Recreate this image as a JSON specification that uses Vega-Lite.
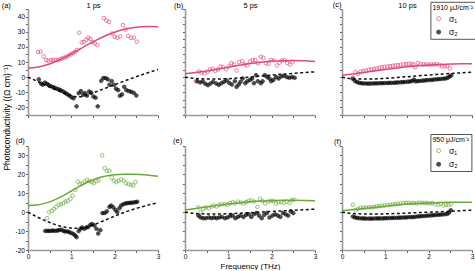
{
"$schema": "https://vega.github.io/schema/vega-lite/v6.json",
"padding": {"left": 1, "top": 0, "right": 0, "bottom": 0},
"bounds": "flush",
"columns": 3,
"spacing": {"row": 31, "column": 27},
"config": {
 "font": "Liberation Sans",
 "view": {"stroke": null},
 "axis": {"domainColor": "#9a9a9a", "domainWidth": 1.6, "tickColor": "#333", "tickSize": 2.5, "tickWidth": 0.8, "labelFontSize": 6.5, "labelColor": "black", "labelPadding": 1, "labelFlush": false, "labelOverlap": false, "grid": false, "titleFontWeight": "normal", "titleFontSize": 7.5, "titleColor": "black"},
 "legend": {"strokeColor": "#555", "fillColor": "white", "padding": 2, "titleFontSize": 7, "titleFontWeight": "normal", "titleColor": "black", "titlePadding": 3.5, "labelFontSize": 8.5, "labelColor": "black", "symbolSize": 16, "symbolStrokeWidth": 1, "rowPadding": 4.5, "labelOffset": 6, "symbolOffset": 2}
},
"datasets": {
"pts": [
{"p":"a","s":"σ₁","x":0.23,"y":16.6},{"p":"a","s":"σ₁","x":0.29,"y":16.8},{"p":"a","s":"σ₁","x":0.36,"y":13.7},{"p":"a","s":"σ₁","x":0.42,"y":11.3},{"p":"a","s":"σ₁","x":0.47,"y":10.8},{"p":"a","s":"σ₁","x":0.53,"y":11.3},{"p":"a","s":"σ₁","x":0.58,"y":11.4},{"p":"a","s":"σ₁","x":0.64,"y":11.4},{"p":"a","s":"σ₁","x":0.69,"y":11.2},{"p":"a","s":"σ₁","x":0.74,"y":11.9},{"p":"a","s":"σ₁","x":0.79,"y":12.4},{"p":"a","s":"σ₁","x":0.84,"y":12.9},{"p":"a","s":"σ₁","x":0.89,"y":13.6},{"p":"a","s":"σ₁","x":0.94,"y":14.2},{"p":"a","s":"σ₁","x":0.99,"y":15.1},{"p":"a","s":"σ₁","x":1.04,"y":15.9},{"p":"a","s":"σ₁","x":1.09,"y":16.7},{"p":"a","s":"σ₁","x":1.13,"y":18.0},{"p":"a","s":"σ₁","x":1.18,"y":29.3},{"p":"a","s":"σ₁","x":1.24,"y":23.0},{"p":"a","s":"σ₁","x":1.29,"y":23.1},{"p":"a","s":"σ₁","x":1.34,"y":24.6},{"p":"a","s":"σ₁","x":1.39,"y":25.9},{"p":"a","s":"σ₁","x":1.44,"y":25.2},{"p":"a","s":"σ₁","x":1.49,"y":23.1},{"p":"a","s":"σ₁","x":1.54,"y":22.2},{"p":"a","s":"σ₁","x":1.60,"y":21.2},{"p":"a","s":"σ₁","x":1.75,"y":39.0},{"p":"a","s":"σ₁","x":1.81,"y":37.3},{"p":"a","s":"σ₁","x":1.87,"y":36.5},{"p":"a","s":"σ₁","x":1.94,"y":28.8},{"p":"a","s":"σ₁","x":2.00,"y":26.6},{"p":"a","s":"σ₁","x":2.06,"y":26.0},{"p":"a","s":"σ₁","x":2.13,"y":26.9},{"p":"a","s":"σ₁","x":2.19,"y":34.4},{"p":"a","s":"σ₁","x":2.25,"y":31.4},{"p":"a","s":"σ₁","x":2.31,"y":27.2},{"p":"a","s":"σ₁","x":2.38,"y":26.0},{"p":"a","s":"σ₁","x":2.44,"y":26.0},{"p":"a","s":"σ₁","x":2.51,"y":23.4},
{"p":"a","s":"σ₂","x":0.25,"y":-1.5},{"p":"a","s":"σ₂","x":0.30,"y":-4.2},{"p":"a","s":"σ₂","x":0.34,"y":-5.0},{"p":"a","s":"σ₂","x":0.39,"y":-3.6},{"p":"a","s":"σ₂","x":0.44,"y":-4.4},{"p":"a","s":"σ₂","x":0.48,"y":-5.3},{"p":"a","s":"σ₂","x":0.53,"y":-6.0},{"p":"a","s":"σ₂","x":0.58,"y":-6.6},{"p":"a","s":"σ₂","x":0.62,"y":-7.1},{"p":"a","s":"σ₂","x":0.67,"y":-7.7},{"p":"a","s":"σ₂","x":0.72,"y":-8.2},{"p":"a","s":"σ₂","x":0.76,"y":-8.8},{"p":"a","s":"σ₂","x":0.81,"y":-9.5},{"p":"a","s":"σ₂","x":0.86,"y":-10.4},{"p":"a","s":"σ₂","x":0.90,"y":-11.2},{"p":"a","s":"σ₂","x":0.95,"y":-12.1},{"p":"a","s":"σ₂","x":1.00,"y":-13.2},{"p":"a","s":"σ₂","x":1.05,"y":-14.0},{"p":"a","s":"σ₂","x":1.12,"y":-19.3},{"p":"a","s":"σ₂","x":1.17,"y":-10.6},{"p":"a","s":"σ₂","x":1.22,"y":-9.2},{"p":"a","s":"σ₂","x":1.27,"y":-11.6},{"p":"a","s":"σ₂","x":1.31,"y":-10.5},{"p":"a","s":"σ₂","x":1.36,"y":-12.2},{"p":"a","s":"σ₂","x":1.41,"y":-9.5},{"p":"a","s":"σ₂","x":1.46,"y":-10.3},{"p":"a","s":"σ₂","x":1.51,"y":-12.8},{"p":"a","s":"σ₂","x":1.56,"y":-13.6},{"p":"a","s":"σ₂","x":1.61,"y":-19.3},{"p":"a","s":"σ₂","x":1.69,"y":-2.4},{"p":"a","s":"σ₂","x":1.74,"y":-0.6},{"p":"a","s":"σ₂","x":1.79,"y":-0.6},{"p":"a","s":"σ₂","x":1.84,"y":-1.5},{"p":"a","s":"σ₂","x":1.88,"y":-5.0},{"p":"a","s":"σ₂","x":1.93,"y":-2.6},{"p":"a","s":"σ₂","x":1.98,"y":-5.0},{"p":"a","s":"σ₂","x":2.03,"y":-7.6},{"p":"a","s":"σ₂","x":2.08,"y":-8.6},{"p":"a","s":"σ₂","x":2.12,"y":-12.3},{"p":"a","s":"σ₂","x":2.17,"y":-11.4},{"p":"a","s":"σ₂","x":2.22,"y":-6.4},{"p":"a","s":"σ₂","x":2.27,"y":-8.6},{"p":"a","s":"σ₂","x":2.33,"y":-9.2},{"p":"a","s":"σ₂","x":2.38,"y":-9.7},{"p":"a","s":"σ₂","x":2.44,"y":-10.4},{"p":"a","s":"σ₂","x":2.50,"y":-12.1},
{"p":"b","s":"σ₁","x":0.25,"y":-2.7},{"p":"b","s":"σ₁","x":0.32,"y":3.8},{"p":"b","s":"σ₁","x":0.38,"y":2.9},{"p":"b","s":"σ₁","x":0.45,"y":2.4},{"p":"b","s":"σ₁","x":0.52,"y":3.5},{"p":"b","s":"σ₁","x":0.58,"y":5.1},{"p":"b","s":"σ₁","x":0.64,"y":5.5},{"p":"b","s":"σ₁","x":0.70,"y":4.2},{"p":"b","s":"σ₁","x":0.76,"y":5.1},{"p":"b","s":"σ₁","x":0.82,"y":7.1},{"p":"b","s":"σ₁","x":0.88,"y":6.6},{"p":"b","s":"σ₁","x":0.95,"y":5.3},{"p":"b","s":"σ₁","x":1.01,"y":7.1},{"p":"b","s":"σ₁","x":1.07,"y":9.3},{"p":"b","s":"σ₁","x":1.13,"y":8.4},{"p":"b","s":"σ₁","x":1.19,"y":4.4},{"p":"b","s":"σ₁","x":1.25,"y":9.9},{"p":"b","s":"σ₁","x":1.32,"y":10.6},{"p":"b","s":"σ₁","x":1.38,"y":8.4},{"p":"b","s":"σ₁","x":1.44,"y":7.7},{"p":"b","s":"σ₁","x":1.50,"y":10.4},{"p":"b","s":"σ₁","x":1.56,"y":11.3},{"p":"b","s":"σ₁","x":1.62,"y":11.3},{"p":"b","s":"σ₁","x":1.68,"y":9.1},{"p":"b","s":"σ₁","x":1.75,"y":13.5},{"p":"b","s":"σ₁","x":1.81,"y":12.8},{"p":"b","s":"σ₁","x":1.87,"y":9.1},{"p":"b","s":"σ₁","x":1.93,"y":8.8},{"p":"b","s":"σ₁","x":1.99,"y":11.3},{"p":"b","s":"σ₁","x":2.05,"y":11.0},{"p":"b","s":"σ₁","x":2.12,"y":7.7},{"p":"b","s":"σ₁","x":2.18,"y":9.5},{"p":"b","s":"σ₁","x":2.24,"y":11.0},{"p":"b","s":"σ₁","x":2.30,"y":11.3},{"p":"b","s":"σ₁","x":2.36,"y":9.3},{"p":"b","s":"σ₁","x":2.42,"y":8.4},{"p":"b","s":"σ₁","x":2.48,"y":9.9},
{"p":"b","s":"σ₂","x":0.28,"y":-2.7},{"p":"b","s":"σ₂","x":0.35,"y":-3.5},{"p":"b","s":"σ₂","x":0.41,"y":-2.9},{"p":"b","s":"σ₂","x":0.47,"y":-4.4},{"p":"b","s":"σ₂","x":0.53,"y":-5.3},{"p":"b","s":"σ₂","x":0.59,"y":-4.2},{"p":"b","s":"σ₂","x":0.65,"y":-3.1},{"p":"b","s":"σ₂","x":0.72,"y":-4.2},{"p":"b","s":"σ₂","x":0.78,"y":-5.1},{"p":"b","s":"σ₂","x":0.84,"y":-4.0},{"p":"b","s":"σ₂","x":0.90,"y":-3.1},{"p":"b","s":"σ₂","x":0.96,"y":-2.2},{"p":"b","s":"σ₂","x":1.02,"y":-3.8},{"p":"b","s":"σ₂","x":1.08,"y":-4.9},{"p":"b","s":"σ₂","x":1.15,"y":-2.7},{"p":"b","s":"σ₂","x":1.19,"y":-6.4},{"p":"b","s":"σ₂","x":1.24,"y":-4.9},{"p":"b","s":"σ₂","x":1.28,"y":-3.1},{"p":"b","s":"σ₂","x":1.33,"y":-0.9},{"p":"b","s":"σ₂","x":1.39,"y":-4.0},{"p":"b","s":"σ₂","x":1.44,"y":-2.7},{"p":"b","s":"σ₂","x":1.50,"y":-1.8},{"p":"b","s":"σ₂","x":1.55,"y":-0.9},{"p":"b","s":"σ₂","x":1.59,"y":-4.0},{"p":"b","s":"σ₂","x":1.64,"y":1.3},{"p":"b","s":"σ₂","x":1.68,"y":-2.7},{"p":"b","s":"σ₂","x":1.75,"y":-4.0},{"p":"b","s":"σ₂","x":1.79,"y":-2.7},{"p":"b","s":"σ₂","x":1.84,"y":1.3},{"p":"b","s":"σ₂","x":1.90,"y":0.0},{"p":"b","s":"σ₂","x":1.95,"y":-0.9},{"p":"b","s":"σ₂","x":1.99,"y":-2.7},{"p":"b","s":"σ₂","x":2.04,"y":-1.8},{"p":"b","s":"σ₂","x":2.10,"y":0.0},{"p":"b","s":"σ₂","x":2.16,"y":-0.9},{"p":"b","s":"σ₂","x":2.22,"y":0.4},{"p":"b","s":"σ₂","x":2.28,"y":0.9},{"p":"b","s":"σ₂","x":2.35,"y":0.0},{"p":"b","s":"σ₂","x":2.41,"y":-0.4},{"p":"b","s":"σ₂","x":2.47,"y":0.0},{"p":"b","s":"σ₂","x":2.53,"y":-0.4},
{"p":"c","s":"σ₁","x":0.25,"y":-0.4},{"p":"c","s":"σ₁","x":0.31,"y":3.3},{"p":"c","s":"σ₁","x":0.37,"y":2.2},{"p":"c","s":"σ₁","x":0.43,"y":3.5},{"p":"c","s":"σ₁","x":0.49,"y":4.0},{"p":"c","s":"σ₁","x":0.55,"y":4.4},{"p":"c","s":"σ₁","x":0.62,"y":4.9},{"p":"c","s":"σ₁","x":0.68,"y":5.1},{"p":"c","s":"σ₁","x":0.74,"y":5.5},{"p":"c","s":"σ₁","x":0.80,"y":5.7},{"p":"c","s":"σ₁","x":0.86,"y":6.2},{"p":"c","s":"σ₁","x":0.92,"y":6.4},{"p":"c","s":"σ₁","x":0.98,"y":6.8},{"p":"c","s":"σ₁","x":1.05,"y":7.1},{"p":"c","s":"σ₁","x":1.11,"y":7.3},{"p":"c","s":"σ₁","x":1.17,"y":7.5},{"p":"c","s":"σ₁","x":1.23,"y":7.7},{"p":"c","s":"σ₁","x":1.29,"y":7.9},{"p":"c","s":"σ₁","x":1.35,"y":8.2},{"p":"c","s":"σ₁","x":1.42,"y":8.4},{"p":"c","s":"σ₁","x":1.48,"y":8.6},{"p":"c","s":"σ₁","x":1.54,"y":8.8},{"p":"c","s":"σ₁","x":1.60,"y":8.8},{"p":"c","s":"σ₁","x":1.65,"y":8.4},{"p":"c","s":"σ₁","x":1.69,"y":6.6},{"p":"c","s":"σ₁","x":1.75,"y":9.3},{"p":"c","s":"σ₁","x":1.82,"y":8.6},{"p":"c","s":"σ₁","x":1.88,"y":8.4},{"p":"c","s":"σ₁","x":1.94,"y":8.4},{"p":"c","s":"σ₁","x":2.00,"y":8.2},{"p":"c","s":"σ₁","x":2.06,"y":8.4},{"p":"c","s":"σ₁","x":2.12,"y":8.4},{"p":"c","s":"σ₁","x":2.18,"y":8.6},{"p":"c","s":"σ₁","x":2.25,"y":8.2},{"p":"c","s":"σ₁","x":2.31,"y":7.1},{"p":"c","s":"σ₁","x":2.37,"y":7.1},{"p":"c","s":"σ₁","x":2.43,"y":7.3},{"p":"c","s":"σ₁","x":2.49,"y":5.7},
{"p":"c","s":"σ₂","x":0.25,"y":-1.1},{"p":"c","s":"σ₂","x":0.30,"y":-2.6},{"p":"c","s":"σ₂","x":0.35,"y":-3.3},{"p":"c","s":"σ₂","x":0.40,"y":-3.8},{"p":"c","s":"σ₂","x":0.45,"y":-4.0},{"p":"c","s":"σ₂","x":0.50,"y":-4.2},{"p":"c","s":"σ₂","x":0.56,"y":-4.2},{"p":"c","s":"σ₂","x":0.61,"y":-4.3},{"p":"c","s":"σ₂","x":0.66,"y":-4.2},{"p":"c","s":"σ₂","x":0.72,"y":-4.2},{"p":"c","s":"σ₂","x":0.77,"y":-4.1},{"p":"c","s":"σ₂","x":0.82,"y":-4.1},{"p":"c","s":"σ₂","x":0.88,"y":-4.0},{"p":"c","s":"σ₂","x":0.93,"y":-4.0},{"p":"c","s":"σ₂","x":0.98,"y":-3.9},{"p":"c","s":"σ₂","x":1.04,"y":-3.9},{"p":"c","s":"σ₂","x":1.09,"y":-3.8},{"p":"c","s":"σ₂","x":1.14,"y":-3.8},{"p":"c","s":"σ₂","x":1.20,"y":-3.7},{"p":"c","s":"σ₂","x":1.25,"y":-3.6},{"p":"c","s":"σ₂","x":1.30,"y":-3.5},{"p":"c","s":"σ₂","x":1.36,"y":-3.4},{"p":"c","s":"σ₂","x":1.41,"y":-3.3},{"p":"c","s":"σ₂","x":1.46,"y":-3.2},{"p":"c","s":"σ₂","x":1.52,"y":-3.0},{"p":"c","s":"σ₂","x":1.57,"y":-2.9},{"p":"c","s":"σ₂","x":1.62,"y":-2.6},{"p":"c","s":"σ₂","x":1.66,"y":-1.6},{"p":"c","s":"σ₂","x":1.70,"y":-2.8},{"p":"c","s":"σ₂","x":1.75,"y":-2.6},{"p":"c","s":"σ₂","x":1.80,"y":-2.5},{"p":"c","s":"σ₂","x":1.86,"y":-2.3},{"p":"c","s":"σ₂","x":1.91,"y":-2.2},{"p":"c","s":"σ₂","x":1.96,"y":-2.0},{"p":"c","s":"σ₂","x":2.02,"y":-1.9},{"p":"c","s":"σ₂","x":2.07,"y":-1.8},{"p":"c","s":"σ₂","x":2.12,"y":-1.6},{"p":"c","s":"σ₂","x":2.18,"y":-1.5},{"p":"c","s":"σ₂","x":2.23,"y":-1.3},{"p":"c","s":"σ₂","x":2.28,"y":-1.2},{"p":"c","s":"σ₂","x":2.34,"y":-1.0},{"p":"c","s":"σ₂","x":2.39,"y":-0.9},{"p":"c","s":"σ₂","x":2.44,"y":-0.4},{"p":"c","s":"σ₂","x":2.48,"y":0.4},{"p":"c","s":"σ₂","x":2.52,"y":1.1},
{"p":"d","s":"σ₁","x":0.44,"y":-3.2},{"p":"d","s":"σ₁","x":0.49,"y":0.0},{"p":"d","s":"σ₁","x":0.55,"y":0.7},{"p":"d","s":"σ₁","x":0.60,"y":1.8},{"p":"d","s":"σ₁","x":0.65,"y":2.8},{"p":"d","s":"σ₁","x":0.71,"y":3.9},{"p":"d","s":"σ₁","x":0.76,"y":4.2},{"p":"d","s":"σ₁","x":0.82,"y":4.8},{"p":"d","s":"σ₁","x":0.87,"y":5.6},{"p":"d","s":"σ₁","x":0.92,"y":6.0},{"p":"d","s":"σ₁","x":0.98,"y":7.1},{"p":"d","s":"σ₁","x":1.03,"y":8.8},{"p":"d","s":"σ₁","x":1.09,"y":11.8},{"p":"d","s":"σ₁","x":1.15,"y":16.2},{"p":"d","s":"σ₁","x":1.20,"y":14.8},{"p":"d","s":"σ₁","x":1.25,"y":15.2},{"p":"d","s":"σ₁","x":1.31,"y":16.2},{"p":"d","s":"σ₁","x":1.36,"y":17.1},{"p":"d","s":"σ₁","x":1.42,"y":16.6},{"p":"d","s":"σ₁","x":1.47,"y":15.9},{"p":"d","s":"σ₁","x":1.52,"y":15.3},{"p":"d","s":"σ₁","x":1.58,"y":16.6},{"p":"d","s":"σ₁","x":1.63,"y":16.9},{"p":"d","s":"σ₁","x":1.71,"y":30.0},{"p":"d","s":"σ₁","x":1.77,"y":23.3},{"p":"d","s":"σ₁","x":1.82,"y":21.9},{"p":"d","s":"σ₁","x":1.88,"y":21.9},{"p":"d","s":"σ₁","x":1.93,"y":18.3},{"p":"d","s":"σ₁","x":1.98,"y":16.6},{"p":"d","s":"σ₁","x":2.04,"y":15.9},{"p":"d","s":"σ₁","x":2.09,"y":16.6},{"p":"d","s":"σ₁","x":2.15,"y":17.3},{"p":"d","s":"σ₁","x":2.21,"y":16.6},{"p":"d","s":"σ₁","x":2.26,"y":15.3},{"p":"d","s":"σ₁","x":2.32,"y":14.8},{"p":"d","s":"σ₁","x":2.38,"y":14.5},{"p":"d","s":"σ₁","x":2.43,"y":14.1},{"p":"d","s":"σ₁","x":2.48,"y":15.9},
{"p":"d","s":"σ₂","x":0.40,"y":-9.9},{"p":"d","s":"σ₂","x":0.45,"y":-9.9},{"p":"d","s":"σ₂","x":0.49,"y":-9.9},{"p":"d","s":"σ₂","x":0.54,"y":-9.9},{"p":"d","s":"σ₂","x":0.58,"y":-9.7},{"p":"d","s":"σ₂","x":0.63,"y":-9.9},{"p":"d","s":"σ₂","x":0.68,"y":-9.7},{"p":"d","s":"σ₂","x":0.72,"y":-9.5},{"p":"d","s":"σ₂","x":0.77,"y":-9.3},{"p":"d","s":"σ₂","x":0.82,"y":-9.9},{"p":"d","s":"σ₂","x":0.86,"y":-10.2},{"p":"d","s":"σ₂","x":0.91,"y":-10.2},{"p":"d","s":"σ₂","x":0.95,"y":-10.6},{"p":"d","s":"σ₂","x":1.00,"y":-11.0},{"p":"d","s":"σ₂","x":1.05,"y":-11.6},{"p":"d","s":"σ₂","x":1.09,"y":-12.3},{"p":"d","s":"σ₂","x":1.12,"y":-13.2},{"p":"d","s":"σ₂","x":1.17,"y":-10.0},{"p":"d","s":"σ₂","x":1.21,"y":-8.8},{"p":"d","s":"σ₂","x":1.25,"y":-8.1},{"p":"d","s":"σ₂","x":1.30,"y":-8.8},{"p":"d","s":"σ₂","x":1.35,"y":-8.1},{"p":"d","s":"σ₂","x":1.39,"y":-7.8},{"p":"d","s":"σ₂","x":1.44,"y":-6.7},{"p":"d","s":"σ₂","x":1.48,"y":-6.3},{"p":"d","s":"σ₂","x":1.53,"y":-7.0},{"p":"d","s":"σ₂","x":1.58,"y":-8.8},{"p":"d","s":"σ₂","x":1.62,"y":-11.3},{"p":"d","s":"σ₂","x":1.67,"y":-9.5},{"p":"d","s":"σ₂","x":1.72,"y":-0.5},{"p":"d","s":"σ₂","x":1.77,"y":-0.4},{"p":"d","s":"σ₂","x":1.82,"y":0.4},{"p":"d","s":"σ₂","x":1.88,"y":2.8},{"p":"d","s":"σ₂","x":1.92,"y":3.5},{"p":"d","s":"σ₂","x":1.97,"y":2.5},{"p":"d","s":"σ₂","x":2.02,"y":1.1},{"p":"d","s":"σ₂","x":2.06,"y":0.0},{"p":"d","s":"σ₂","x":2.11,"y":2.1},{"p":"d","s":"σ₂","x":2.15,"y":3.5},{"p":"d","s":"σ₂","x":2.20,"y":4.2},{"p":"d","s":"σ₂","x":2.25,"y":4.6},{"p":"d","s":"σ₂","x":2.29,"y":4.8},{"p":"d","s":"σ₂","x":2.34,"y":4.9},{"p":"d","s":"σ₂","x":2.38,"y":5.0},{"p":"d","s":"σ₂","x":2.43,"y":5.1},{"p":"d","s":"σ₂","x":2.48,"y":5.3},{"p":"d","s":"σ₂","x":2.52,"y":5.5},
{"p":"e","s":"σ₁","x":0.31,"y":2.6},{"p":"e","s":"σ₁","x":0.36,"y":0.0},{"p":"e","s":"σ₁","x":0.42,"y":1.8},{"p":"e","s":"σ₁","x":0.48,"y":2.5},{"p":"e","s":"σ₁","x":0.55,"y":2.1},{"p":"e","s":"σ₁","x":0.61,"y":3.0},{"p":"e","s":"σ₁","x":0.67,"y":3.5},{"p":"e","s":"σ₁","x":0.73,"y":3.0},{"p":"e","s":"σ₁","x":0.79,"y":3.9},{"p":"e","s":"σ₁","x":0.85,"y":4.2},{"p":"e","s":"σ₁","x":0.92,"y":4.2},{"p":"e","s":"σ₁","x":0.98,"y":3.9},{"p":"e","s":"σ₁","x":1.04,"y":4.8},{"p":"e","s":"σ₁","x":1.10,"y":5.3},{"p":"e","s":"σ₁","x":1.16,"y":4.6},{"p":"e","s":"σ₁","x":1.22,"y":5.6},{"p":"e","s":"σ₁","x":1.28,"y":5.1},{"p":"e","s":"σ₁","x":1.35,"y":4.6},{"p":"e","s":"σ₁","x":1.41,"y":5.3},{"p":"e","s":"σ₁","x":1.47,"y":6.0},{"p":"e","s":"σ₁","x":1.53,"y":6.3},{"p":"e","s":"σ₁","x":1.59,"y":5.6},{"p":"e","s":"σ₁","x":1.67,"y":2.8},{"p":"e","s":"σ₁","x":1.73,"y":7.1},{"p":"e","s":"σ₁","x":1.79,"y":6.0},{"p":"e","s":"σ₁","x":1.85,"y":4.6},{"p":"e","s":"σ₁","x":1.92,"y":5.6},{"p":"e","s":"σ₁","x":1.98,"y":6.0},{"p":"e","s":"σ₁","x":2.04,"y":6.0},{"p":"e","s":"σ₁","x":2.10,"y":4.6},{"p":"e","s":"σ₁","x":2.16,"y":5.3},{"p":"e","s":"σ₁","x":2.22,"y":5.3},{"p":"e","s":"σ₁","x":2.28,"y":4.9},{"p":"e","s":"σ₁","x":2.35,"y":5.6},{"p":"e","s":"σ₁","x":2.41,"y":4.9},{"p":"e","s":"σ₁","x":2.47,"y":6.3},{"p":"e","s":"σ₁","x":2.52,"y":6.7},
{"p":"e","s":"σ₂","x":0.31,"y":-1.8},{"p":"e","s":"σ₂","x":0.36,"y":-2.8},{"p":"e","s":"σ₂","x":0.42,"y":-3.2},{"p":"e","s":"σ₂","x":0.48,"y":-3.2},{"p":"e","s":"σ₂","x":0.55,"y":-2.8},{"p":"e","s":"σ₂","x":0.61,"y":-3.2},{"p":"e","s":"σ₂","x":0.67,"y":-2.8},{"p":"e","s":"σ₂","x":0.73,"y":-3.2},{"p":"e","s":"σ₂","x":0.79,"y":-2.8},{"p":"e","s":"σ₂","x":0.85,"y":-2.5},{"p":"e","s":"σ₂","x":0.92,"y":-3.2},{"p":"e","s":"σ₂","x":0.98,"y":-2.8},{"p":"e","s":"σ₂","x":1.04,"y":-2.1},{"p":"e","s":"σ₂","x":1.10,"y":-1.8},{"p":"e","s":"σ₂","x":1.16,"y":-3.2},{"p":"e","s":"σ₂","x":1.22,"y":-2.5},{"p":"e","s":"σ₂","x":1.28,"y":-1.8},{"p":"e","s":"σ₂","x":1.35,"y":-2.5},{"p":"e","s":"σ₂","x":1.41,"y":-1.4},{"p":"e","s":"σ₂","x":1.47,"y":-1.1},{"p":"e","s":"σ₂","x":1.53,"y":-2.5},{"p":"e","s":"σ₂","x":1.59,"y":-1.1},{"p":"e","s":"σ₂","x":1.65,"y":-0.4},{"p":"e","s":"σ₂","x":1.71,"y":-1.8},{"p":"e","s":"σ₂","x":1.77,"y":-3.2},{"p":"e","s":"σ₂","x":1.83,"y":-1.4},{"p":"e","s":"σ₂","x":1.89,"y":-0.4},{"p":"e","s":"σ₂","x":1.95,"y":-2.8},{"p":"e","s":"σ₂","x":2.02,"y":-1.8},{"p":"e","s":"σ₂","x":2.08,"y":-1.1},{"p":"e","s":"σ₂","x":2.14,"y":-1.8},{"p":"e","s":"σ₂","x":2.20,"y":-2.5},{"p":"e","s":"σ₂","x":2.26,"y":-0.4},{"p":"e","s":"σ₂","x":2.32,"y":-1.1},{"p":"e","s":"σ₂","x":2.38,"y":-1.8},{"p":"e","s":"σ₂","x":2.44,"y":0.4},{"p":"e","s":"σ₂","x":2.50,"y":-0.5},
{"p":"f","s":"σ₁","x":0.25,"y":3.9},{"p":"f","s":"σ₁","x":0.31,"y":1.1},{"p":"f","s":"σ₁","x":0.37,"y":1.8},{"p":"f","s":"σ₁","x":0.43,"y":2.3},{"p":"f","s":"σ₁","x":0.49,"y":2.3},{"p":"f","s":"σ₁","x":0.55,"y":2.5},{"p":"f","s":"σ₁","x":0.62,"y":2.6},{"p":"f","s":"σ₁","x":0.68,"y":2.6},{"p":"f","s":"σ₁","x":0.74,"y":2.8},{"p":"f","s":"σ₁","x":0.80,"y":3.0},{"p":"f","s":"σ₁","x":0.86,"y":3.2},{"p":"f","s":"σ₁","x":0.92,"y":3.5},{"p":"f","s":"σ₁","x":0.98,"y":3.5},{"p":"f","s":"σ₁","x":1.05,"y":3.7},{"p":"f","s":"σ₁","x":1.11,"y":3.9},{"p":"f","s":"σ₁","x":1.17,"y":4.1},{"p":"f","s":"σ₁","x":1.23,"y":4.2},{"p":"f","s":"σ₁","x":1.29,"y":4.4},{"p":"f","s":"σ₁","x":1.35,"y":4.6},{"p":"f","s":"σ₁","x":1.42,"y":4.8},{"p":"f","s":"σ₁","x":1.48,"y":4.9},{"p":"f","s":"σ₁","x":1.54,"y":4.9},{"p":"f","s":"σ₁","x":1.60,"y":4.8},{"p":"f","s":"σ₁","x":1.66,"y":4.9},{"p":"f","s":"σ₁","x":1.72,"y":4.6},{"p":"f","s":"σ₁","x":1.78,"y":5.1},{"p":"f","s":"σ₁","x":1.85,"y":4.9},{"p":"f","s":"σ₁","x":1.91,"y":4.9},{"p":"f","s":"σ₁","x":1.97,"y":4.8},{"p":"f","s":"σ₁","x":2.03,"y":4.6},{"p":"f","s":"σ₁","x":2.09,"y":4.8},{"p":"f","s":"σ₁","x":2.15,"y":4.2},{"p":"f","s":"σ₁","x":2.22,"y":3.9},{"p":"f","s":"σ₁","x":2.28,"y":4.4},{"p":"f","s":"σ₁","x":2.34,"y":3.5},{"p":"f","s":"σ₁","x":2.40,"y":3.9},{"p":"f","s":"σ₁","x":2.46,"y":3.9},{"p":"f","s":"σ₁","x":2.51,"y":4.2},
{"p":"f","s":"σ₂","x":0.25,"y":-2.3},{"p":"f","s":"σ₂","x":0.30,"y":-2.8},{"p":"f","s":"σ₂","x":0.35,"y":-3.0},{"p":"f","s":"σ₂","x":0.40,"y":-3.2},{"p":"f","s":"σ₂","x":0.46,"y":-3.3},{"p":"f","s":"σ₂","x":0.51,"y":-3.3},{"p":"f","s":"σ₂","x":0.56,"y":-3.4},{"p":"f","s":"σ₂","x":0.62,"y":-3.4},{"p":"f","s":"σ₂","x":0.67,"y":-3.4},{"p":"f","s":"σ₂","x":0.72,"y":-3.4},{"p":"f","s":"σ₂","x":0.78,"y":-3.3},{"p":"f","s":"σ₂","x":0.83,"y":-3.3},{"p":"f","s":"σ₂","x":0.88,"y":-3.3},{"p":"f","s":"σ₂","x":0.94,"y":-3.3},{"p":"f","s":"σ₂","x":0.99,"y":-3.2},{"p":"f","s":"σ₂","x":1.04,"y":-3.2},{"p":"f","s":"σ₂","x":1.10,"y":-3.1},{"p":"f","s":"σ₂","x":1.15,"y":-3.1},{"p":"f","s":"σ₂","x":1.20,"y":-3.0},{"p":"f","s":"σ₂","x":1.26,"y":-3.0},{"p":"f","s":"σ₂","x":1.31,"y":-2.9},{"p":"f","s":"σ₂","x":1.36,"y":-2.9},{"p":"f","s":"σ₂","x":1.42,"y":-2.8},{"p":"f","s":"σ₂","x":1.47,"y":-2.8},{"p":"f","s":"σ₂","x":1.52,"y":-2.7},{"p":"f","s":"σ₂","x":1.58,"y":-2.6},{"p":"f","s":"σ₂","x":1.63,"y":-2.6},{"p":"f","s":"σ₂","x":1.68,"y":-2.5},{"p":"f","s":"σ₂","x":1.74,"y":-2.3},{"p":"f","s":"σ₂","x":1.79,"y":-2.2},{"p":"f","s":"σ₂","x":1.84,"y":-2.1},{"p":"f","s":"σ₂","x":1.90,"y":-2.0},{"p":"f","s":"σ₂","x":1.95,"y":-1.9},{"p":"f","s":"σ₂","x":2.00,"y":-1.8},{"p":"f","s":"σ₂","x":2.06,"y":-1.7},{"p":"f","s":"σ₂","x":2.11,"y":-1.6},{"p":"f","s":"σ₂","x":2.16,"y":-1.5},{"p":"f","s":"σ₂","x":2.22,"y":-1.4},{"p":"f","s":"σ₂","x":2.27,"y":-1.3},{"p":"f","s":"σ₂","x":2.32,"y":-1.2},{"p":"f","s":"σ₂","x":2.38,"y":-1.1},{"p":"f","s":"σ₂","x":2.43,"y":-0.9},{"p":"f","s":"σ₂","x":2.47,"y":-0.2},{"p":"f","s":"σ₂","x":2.51,"y":1.0}
],
"fits": [
{"p":"a","s":"σ₁","x":0,"y":6.0},{"p":"a","s":"σ₁","x":0.2,"y":6.5},{"p":"a","s":"σ₁","x":0.4,"y":7.8},{"p":"a","s":"σ₁","x":0.6,"y":9.8},{"p":"a","s":"σ₁","x":0.8,"y":12.4},{"p":"a","s":"σ₁","x":1.0,"y":15.4},{"p":"a","s":"σ₁","x":1.2,"y":18.6},{"p":"a","s":"σ₁","x":1.4,"y":21.8},{"p":"a","s":"σ₁","x":1.6,"y":24.8},{"p":"a","s":"σ₁","x":1.8,"y":27.5},{"p":"a","s":"σ₁","x":2.0,"y":29.7},{"p":"a","s":"σ₁","x":2.2,"y":31.4},{"p":"a","s":"σ₁","x":2.4,"y":32.6},{"p":"a","s":"σ₁","x":2.6,"y":33.3},{"p":"a","s":"σ₁","x":2.8,"y":33.5},{"p":"a","s":"σ₁","x":3.0,"y":33.3},
{"p":"a","s":"σ₂","x":0,"y":0},{"p":"a","s":"σ₂","x":0.2,"y":-2.6},{"p":"a","s":"σ₂","x":0.4,"y":-5.3},{"p":"a","s":"σ₂","x":0.6,"y":-7.8},{"p":"a","s":"σ₂","x":0.8,"y":-10.2},{"p":"a","s":"σ₂","x":1.0,"y":-12.2},{"p":"a","s":"σ₂","x":1.1,"y":-12.9},{"p":"a","s":"σ₂","x":1.2,"y":-13.0},{"p":"a","s":"σ₂","x":1.3,"y":-12.5},{"p":"a","s":"σ₂","x":1.4,"y":-11.5},{"p":"a","s":"σ₂","x":1.6,"y":-9.3},{"p":"a","s":"σ₂","x":1.8,"y":-7.2},{"p":"a","s":"σ₂","x":2.0,"y":-5.0},{"p":"a","s":"σ₂","x":2.2,"y":-2.8},{"p":"a","s":"σ₂","x":2.4,"y":-0.7},{"p":"a","s":"σ₂","x":2.6,"y":1.3},{"p":"a","s":"σ₂","x":2.8,"y":3.2},{"p":"a","s":"σ₂","x":3.0,"y":5.0},
{"p":"b","s":"σ₁","x":0,"y":2.2},{"p":"b","s":"σ₁","x":0.25,"y":3.0},{"p":"b","s":"σ₁","x":0.5,"y":4.0},{"p":"b","s":"σ₁","x":0.75,"y":5.2},{"p":"b","s":"σ₁","x":1.0,"y":6.5},{"p":"b","s":"σ₁","x":1.25,"y":7.8},{"p":"b","s":"σ₁","x":1.5,"y":9.0},{"p":"b","s":"σ₁","x":1.75,"y":9.9},{"p":"b","s":"σ₁","x":2.0,"y":10.6},{"p":"b","s":"σ₁","x":2.25,"y":10.9},{"p":"b","s":"σ₁","x":2.5,"y":11.0},{"p":"b","s":"σ₁","x":2.75,"y":10.8},{"p":"b","s":"σ₁","x":3.0,"y":10.4},
{"p":"b","s":"σ₂","x":0,"y":0},{"p":"b","s":"σ₂","x":0.3,"y":-1.0},{"p":"b","s":"σ₂","x":0.6,"y":-1.3},{"p":"b","s":"σ₂","x":1.0,"y":-1.0},{"p":"b","s":"σ₂","x":1.5,"y":0.0},{"p":"b","s":"σ₂","x":2.0,"y":1.3},{"p":"b","s":"σ₂","x":2.5,"y":2.5},{"p":"b","s":"σ₂","x":3.0,"y":3.5},
{"p":"c","s":"σ₁","x":0,"y":1.3},{"p":"c","s":"σ₁","x":0.25,"y":2.1},{"p":"c","s":"σ₁","x":0.5,"y":3.0},{"p":"c","s":"σ₁","x":0.75,"y":4.0},{"p":"c","s":"σ₁","x":1.0,"y":5.0},{"p":"c","s":"σ₁","x":1.25,"y":5.9},{"p":"c","s":"σ₁","x":1.5,"y":6.8},{"p":"c","s":"σ₁","x":1.75,"y":7.5},{"p":"c","s":"σ₁","x":2.0,"y":8.0},{"p":"c","s":"σ₁","x":2.25,"y":8.4},{"p":"c","s":"σ₁","x":2.5,"y":8.6},{"p":"c","s":"σ₁","x":2.75,"y":8.8},{"p":"c","s":"σ₁","x":3.0,"y":8.8},
{"p":"c","s":"σ₂","x":0,"y":0},{"p":"c","s":"σ₂","x":0.3,"y":-1.2},{"p":"c","s":"σ₂","x":0.6,"y":-1.3},{"p":"c","s":"σ₂","x":1.0,"y":-0.8},{"p":"c","s":"σ₂","x":1.5,"y":0.3},{"p":"c","s":"σ₂","x":2.0,"y":1.4},{"p":"c","s":"σ₂","x":2.5,"y":2.4},{"p":"c","s":"σ₂","x":3.0,"y":3.3},
{"p":"d","s":"σ₁","x":0,"y":3.5},{"p":"d","s":"σ₁","x":0.2,"y":3.8},{"p":"d","s":"σ₁","x":0.4,"y":4.8},{"p":"d","s":"σ₁","x":0.6,"y":6.4},{"p":"d","s":"σ₁","x":0.8,"y":8.6},{"p":"d","s":"σ₁","x":1.0,"y":11.2},{"p":"d","s":"σ₁","x":1.2,"y":13.8},{"p":"d","s":"σ₁","x":1.4,"y":16.1},{"p":"d","s":"σ₁","x":1.6,"y":17.9},{"p":"d","s":"σ₁","x":1.8,"y":19.1},{"p":"d","s":"σ₁","x":2.0,"y":19.8},{"p":"d","s":"σ₁","x":2.2,"y":20.1},{"p":"d","s":"σ₁","x":2.4,"y":20.1},{"p":"d","s":"σ₁","x":2.6,"y":19.9},{"p":"d","s":"σ₁","x":2.8,"y":19.5},{"p":"d","s":"σ₁","x":3.0,"y":19.0},
{"p":"d","s":"σ₂","x":0,"y":0},{"p":"d","s":"σ₂","x":0.2,"y":-2.4},{"p":"d","s":"σ₂","x":0.4,"y":-4.5},{"p":"d","s":"σ₂","x":0.6,"y":-6.3},{"p":"d","s":"σ₂","x":0.8,"y":-7.6},{"p":"d","s":"σ₂","x":1.0,"y":-8.4},{"p":"d","s":"σ₂","x":1.2,"y":-8.5},{"p":"d","s":"σ₂","x":1.4,"y":-7.6},{"p":"d","s":"σ₂","x":1.6,"y":-5.9},{"p":"d","s":"σ₂","x":1.8,"y":-4.0},{"p":"d","s":"σ₂","x":2.0,"y":-2.1},{"p":"d","s":"σ₂","x":2.2,"y":-0.3},{"p":"d","s":"σ₂","x":2.4,"y":1.3},{"p":"d","s":"σ₂","x":2.6,"y":2.7},{"p":"d","s":"σ₂","x":2.8,"y":3.9},{"p":"d","s":"σ₂","x":3.0,"y":5.0},
{"p":"e","s":"σ₁","x":0,"y":1.2},{"p":"e","s":"σ₁","x":0.25,"y":2.0},{"p":"e","s":"σ₁","x":0.5,"y":2.8},{"p":"e","s":"σ₁","x":0.75,"y":3.6},{"p":"e","s":"σ₁","x":1.0,"y":4.3},{"p":"e","s":"σ₁","x":1.25,"y":4.9},{"p":"e","s":"σ₁","x":1.5,"y":5.5},{"p":"e","s":"σ₁","x":1.75,"y":5.9},{"p":"e","s":"σ₁","x":2.0,"y":6.1},{"p":"e","s":"σ₁","x":2.25,"y":6.3},{"p":"e","s":"σ₁","x":2.5,"y":6.3},{"p":"e","s":"σ₁","x":2.75,"y":6.2},{"p":"e","s":"σ₁","x":3.0,"y":6.0},
{"p":"e","s":"σ₂","x":0,"y":0},{"p":"e","s":"σ₂","x":0.3,"y":-0.8},{"p":"e","s":"σ₂","x":0.6,"y":-1.0},{"p":"e","s":"σ₂","x":1.0,"y":-0.8},{"p":"e","s":"σ₂","x":1.5,"y":-0.3},{"p":"e","s":"σ₂","x":2.0,"y":0.4},{"p":"e","s":"σ₂","x":2.5,"y":1.0},{"p":"e","s":"σ₂","x":3.0,"y":1.6},
{"p":"f","s":"σ₁","x":0,"y":0.7},{"p":"f","s":"σ₁","x":0.5,"y":1.9},{"p":"f","s":"σ₁","x":1.0,"y":3.2},{"p":"f","s":"σ₁","x":1.5,"y":4.3},{"p":"f","s":"σ₁","x":2.0,"y":4.9},{"p":"f","s":"σ₁","x":2.5,"y":5.2},{"p":"f","s":"σ₁","x":3.0,"y":5.2},
{"p":"f","s":"σ₂","x":0,"y":0},{"p":"f","s":"σ₂","x":0.3,"y":-0.8},{"p":"f","s":"σ₂","x":0.6,"y":-1.0},{"p":"f","s":"σ₂","x":1.0,"y":-0.9},{"p":"f","s":"σ₂","x":1.5,"y":-0.5},{"p":"f","s":"σ₂","x":2.0,"y":0.0},{"p":"f","s":"σ₂","x":2.5,"y":0.5},{"p":"f","s":"σ₂","x":3.0,"y":1.1}
]
},
"resolve": {"scale": {"stroke": "independent", "fill": "independent"}, "legend": {"stroke": "independent", "fill": "independent"}},
"concat": [
{
"width": 130, "height": 106,
"encoding": {
 "x": {"field": "x", "type": "quantitative", "scale": {"domain": [0, 3], "nice": false, "zero": false}, "axis": {"values": [0, 0.5, 1, 1.5, 2, 2.5, 3], "labels": false, "title": "1 ps", "titleAngle": 0, "titleAlign": "center", "titleBaseline": "middle", "titleX": 65, "titleY": -109.5}},
 "y": {"field": "y", "type": "quantitative", "scale": {"domain": [-25, 45], "nice": false, "zero": false}, "axis": {"values": [-25, -20, -15, -10, -5, 0, 5, 10, 15, 20, 25, 30, 35, 40, 45], "labelExpr": "datum.value % 10 === 0 ? '' + datum.value : ''", "title": "(a)", "titleAngle": 0, "titleAlign": "right", "titleBaseline": "middle", "titleX": -17.7, "titleY": -3.7}}
},
"layer": [
 {"data": {"name": "fits"}, "transform": [{"filter": "datum.p === 'a' && datum.s === 'σ₂'"}], "mark": {"type": "line", "color": "#111", "strokeWidth": 1.5, "strokeDash": [3, 2.5], "interpolate": "monotone"}},
 {"data": {"name": "fits"}, "transform": [{"filter": "datum.p === 'a' && datum.s === 'σ₁'"}], "mark": {"type": "line", "color": "#E0487F", "strokeWidth": 1.5, "interpolate": "monotone"}},
 {"data": {"name": "pts"}, "transform": [{"filter": "datum.p === 'a'"}], "mark": {"type": "point", "shape": "circle", "filled": true, "size": 13, "strokeWidth": 1},
  "encoding": {"stroke": {"field": "s", "type": "nominal", "scale": {"domain": ["σ₁", "σ₂"], "range": ["#E0487F", "black"]}, "legend": null}, "fill": {"field": "s", "type": "nominal", "scale": {"domain": ["σ₁", "σ₂"], "range": ["transparent", "black"]}, "legend": null}}}
]
},
{
"width": 130, "height": 106,
"encoding": {
 "x": {"field": "x", "type": "quantitative", "scale": {"domain": [0, 3], "nice": false, "zero": false}, "axis": {"values": [0, 0.5, 1, 1.5, 2, 2.5, 3], "labels": false, "title": "5 ps", "titleAngle": 0, "titleAlign": "center", "titleBaseline": "middle", "titleX": 65, "titleY": -109.5}},
 "y": {"field": "y", "type": "quantitative", "scale": {"domain": [-25, 45], "nice": false, "zero": false}, "axis": {"values": [-25, -20, -15, -10, -5, 0, 5, 10, 15, 20, 25, 30, 35, 40, 45], "labels": false, "title": "(b)", "titleAngle": 0, "titleAlign": "right", "titleBaseline": "middle", "titleX": -2.3, "titleY": -3.7}}
},
"layer": [
 {"data": {"name": "fits"}, "transform": [{"filter": "datum.p === 'b' && datum.s === 'σ₂'"}], "mark": {"type": "line", "color": "#111", "strokeWidth": 1.5, "strokeDash": [3, 2.5], "interpolate": "monotone"}},
 {"data": {"name": "fits"}, "transform": [{"filter": "datum.p === 'b' && datum.s === 'σ₁'"}], "mark": {"type": "line", "color": "#E0487F", "strokeWidth": 1.5, "interpolate": "monotone"}},
 {"data": {"name": "pts"}, "transform": [{"filter": "datum.p === 'b'"}], "mark": {"type": "point", "shape": "circle", "filled": true, "size": 13, "strokeWidth": 1},
  "encoding": {"stroke": {"field": "s", "type": "nominal", "scale": {"domain": ["σ₁", "σ₂"], "range": ["#E0487F", "black"]}, "legend": null}, "fill": {"field": "s", "type": "nominal", "scale": {"domain": ["σ₁", "σ₂"], "range": ["transparent", "black"]}, "legend": null}}}
]
},
{
"width": 130, "height": 106,
"encoding": {
 "x": {"field": "x", "type": "quantitative", "scale": {"domain": [0, 3], "nice": false, "zero": false}, "axis": {"values": [0, 0.5, 1, 1.5, 2, 2.5, 3], "labels": false, "title": "10 ps", "titleAngle": 0, "titleAlign": "center", "titleBaseline": "middle", "titleX": 65, "titleY": -109.5}},
 "y": {"field": "y", "type": "quantitative", "scale": {"domain": [-25, 45], "nice": false, "zero": false}, "axis": {"values": [-25, -20, -15, -10, -5, 0, 5, 10, 15, 20, 25, 30, 35, 40, 45], "labels": false, "title": "(c)", "titleAngle": 0, "titleAlign": "right", "titleBaseline": "middle", "titleX": -1, "titleY": -4.2}}
},
"layer": [
 {"data": {"name": "fits"}, "transform": [{"filter": "datum.p === 'c' && datum.s === 'σ₂'"}], "mark": {"type": "line", "color": "#111", "strokeWidth": 1.5, "strokeDash": [3, 2.5], "interpolate": "monotone"}},
 {"data": {"name": "fits"}, "transform": [{"filter": "datum.p === 'c' && datum.s === 'σ₁'"}], "mark": {"type": "line", "color": "#E0487F", "strokeWidth": 1.5, "interpolate": "monotone"}},
 {"data": {"name": "pts"}, "transform": [{"filter": "datum.p === 'c'"}], "mark": {"type": "point", "shape": "circle", "filled": true, "size": 13, "strokeWidth": 1},
  "encoding": {"stroke": {"field": "s", "type": "nominal", "scale": {"domain": ["σ₁", "σ₂"], "range": ["#E0487F", "black"]}, "legend": {"title": "1910 μJ/cm⁻²", "orient": "none", "legendX": 88.4, "legendY": -7.2}}, "fill": {"field": "s", "type": "nominal", "scale": {"domain": ["σ₁", "σ₂"], "range": ["transparent", "black"]}, "legend": {"title": "1910 μJ/cm⁻²", "orient": "none", "legendX": 88.4, "legendY": -7.2}}}}
]
},
{
"width": 130, "height": 104,
"encoding": {
 "x": {"field": "x", "type": "quantitative", "scale": {"domain": [0, 3], "nice": false, "zero": false}, "axis": {"values": [0, 0.5, 1, 1.5, 2, 2.5, 3], "labelExpr": "datum.value % 1 === 0 ? '' + datum.value : ''", "title": "(d)", "titleAngle": 0, "titleAlign": "right", "titleBaseline": "middle", "titleX": -3.7, "titleY": -110}},
 "y": {"field": "y", "type": "quantitative", "scale": {"domain": [-20, 35], "nice": false, "zero": false}, "axis": {"values": [-20, -15, -10, -5, 0, 5, 10, 15, 20, 25, 30, 35], "labelExpr": "datum.value % 10 === 0 ? '' + datum.value : ''", "title": "Photoconductivity ((Ω cm)⁻¹)", "titleFontSize": 8.5, "titleX": -22, "titleY": -29, "titleAlign": "center", "titleBaseline": "middle"}}
},
"layer": [
 {"data": {"name": "fits"}, "transform": [{"filter": "datum.p === 'd' && datum.s === 'σ₂'"}], "mark": {"type": "line", "color": "#111", "strokeWidth": 1.5, "strokeDash": [3, 2.5], "interpolate": "monotone"}},
 {"data": {"name": "fits"}, "transform": [{"filter": "datum.p === 'd' && datum.s === 'σ₁'"}], "mark": {"type": "line", "color": "#6CA83A", "strokeWidth": 1.5, "interpolate": "monotone"}},
 {"data": {"name": "pts"}, "transform": [{"filter": "datum.p === 'd'"}], "mark": {"type": "point", "shape": "circle", "filled": true, "size": 13, "strokeWidth": 1},
  "encoding": {"stroke": {"field": "s", "type": "nominal", "scale": {"domain": ["σ₁", "σ₂"], "range": ["#6CA83A", "black"]}, "legend": null}, "fill": {"field": "s", "type": "nominal", "scale": {"domain": ["σ₁", "σ₂"], "range": ["transparent", "black"]}, "legend": null}}}
]
},
{
"width": 130, "height": 104,
"encoding": {
 "x": {"field": "x", "type": "quantitative", "scale": {"domain": [0, 3], "nice": false, "zero": false}, "axis": {"values": [0, 0.5, 1, 1.5, 2, 2.5, 3], "labelExpr": "datum.value % 1 === 0 ? '' + datum.value : ''", "title": "Frequency (THz)", "titleFontSize": 8, "titlePadding": 2}},
 "y": {"field": "y", "type": "quantitative", "scale": {"domain": [-20, 35], "nice": false, "zero": false}, "axis": {"values": [-20, -15, -10, -5, 0, 5, 10, 15, 20, 25, 30, 35], "labels": false, "title": "(e)", "titleAngle": 0, "titleAlign": "right", "titleBaseline": "middle", "titleX": -3.3, "titleY": -5.5}}
},
"layer": [
 {"data": {"name": "fits"}, "transform": [{"filter": "datum.p === 'e' && datum.s === 'σ₂'"}], "mark": {"type": "line", "color": "#111", "strokeWidth": 1.5, "strokeDash": [3, 2.5], "interpolate": "monotone"}},
 {"data": {"name": "fits"}, "transform": [{"filter": "datum.p === 'e' && datum.s === 'σ₁'"}], "mark": {"type": "line", "color": "#6CA83A", "strokeWidth": 1.5, "interpolate": "monotone"}},
 {"data": {"name": "pts"}, "transform": [{"filter": "datum.p === 'e'"}], "mark": {"type": "point", "shape": "circle", "filled": true, "size": 13, "strokeWidth": 1},
  "encoding": {"stroke": {"field": "s", "type": "nominal", "scale": {"domain": ["σ₁", "σ₂"], "range": ["#6CA83A", "black"]}, "legend": null}, "fill": {"field": "s", "type": "nominal", "scale": {"domain": ["σ₁", "σ₂"], "range": ["transparent", "black"]}, "legend": null}}}
]
},
{
"width": 130, "height": 104,
"encoding": {
 "x": {"field": "x", "type": "quantitative", "scale": {"domain": [0, 3], "nice": false, "zero": false}, "axis": {"values": [0, 0.5, 1, 1.5, 2, 2.5, 3], "labelExpr": "datum.value % 1 === 0 ? '' + datum.value : ''", "title": null}},
 "y": {"field": "y", "type": "quantitative", "scale": {"domain": [-20, 35], "nice": false, "zero": false}, "axis": {"values": [-20, -15, -10, -5, 0, 5, 10, 15, 20, 25, 30, 35], "labels": false, "title": "(f)", "titleAngle": 0, "titleAlign": "right", "titleBaseline": "middle", "titleX": -1.3, "titleY": -5}}
},
"layer": [
 {"data": {"name": "fits"}, "transform": [{"filter": "datum.p === 'f' && datum.s === 'σ₂'"}], "mark": {"type": "line", "color": "#111", "strokeWidth": 1.5, "strokeDash": [3, 2.5], "interpolate": "monotone"}},
 {"data": {"name": "fits"}, "transform": [{"filter": "datum.p === 'f' && datum.s === 'σ₁'"}], "mark": {"type": "line", "color": "#6CA83A", "strokeWidth": 1.5, "interpolate": "monotone"}},
 {"data": {"name": "pts"}, "transform": [{"filter": "datum.p === 'f'"}], "mark": {"type": "point", "shape": "circle", "filled": true, "size": 13, "strokeWidth": 1},
  "encoding": {"stroke": {"field": "s", "type": "nominal", "scale": {"domain": ["σ₁", "σ₂"], "range": ["#6CA83A", "black"]}, "legend": {"title": "950 μJ/cm⁻²", "orient": "none", "legendX": 88.4, "legendY": -12}}, "fill": {"field": "s", "type": "nominal", "scale": {"domain": ["σ₁", "σ₂"], "range": ["transparent", "black"]}, "legend": {"title": "950 μJ/cm⁻²", "orient": "none", "legendX": 88.4, "legendY": -12}}}}
]
}
]
}
